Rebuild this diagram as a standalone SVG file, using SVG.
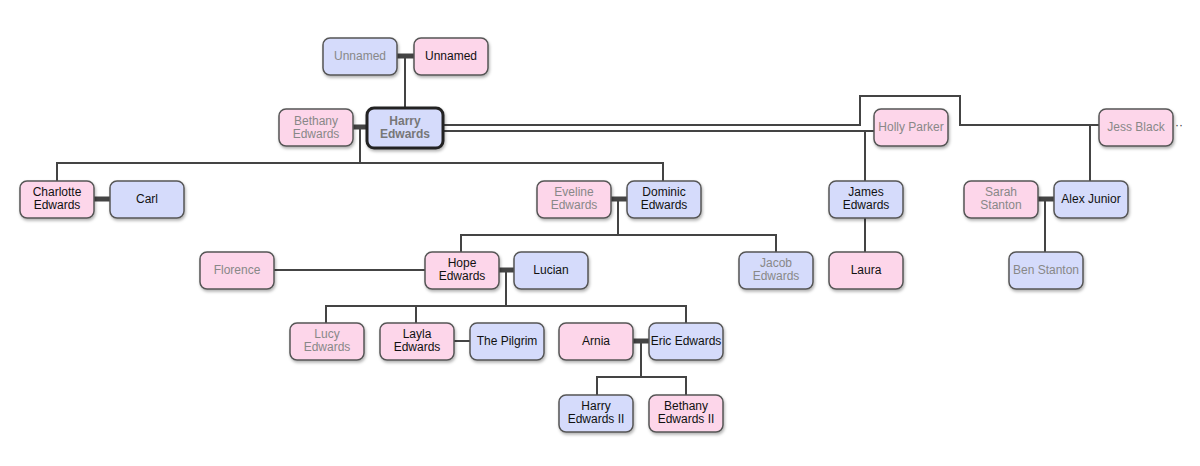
<svg xmlns="http://www.w3.org/2000/svg" width="1200" height="466" viewBox="0 0 1200 466">
<defs>
<filter id="sh" x="-20%" y="-20%" width="150%" height="160%"><feDropShadow dx="1" dy="2" stdDeviation="1.5" flood-color="#000" flood-opacity="0.3"/></filter>
<style>
.n rect{stroke:#555;stroke-width:1.5;filter:url(#sh)}
.m rect{fill:#d5dbfb}.f rect{fill:#fdd6ea}
text{font-family:"Liberation Sans",Arial,sans-serif;font-size:12px;text-anchor:middle;fill:#111}
.g text{fill:#888}
#c path{fill:none;stroke:#444;stroke-width:2}
#c path.t{stroke-width:5}
</style>
</defs>
<rect width="1200" height="466" fill="#fff"/>
<g id="c">
<path class="t" d="M397 56H414M353 127H367M94 199H110M611 199H627M1038 199H1054M499 270H514M633 341H649"/>
<path d="M405 56V108M360 127V163M57 181V163H663V181"/>
<path d="M443 125H860V96H960V125H1099M443 131H874M865 131V181M1090 125V181"/>
<path d="M618 199V235M461 252V235H776V252M865 218V252M1045 199V252"/>
<path d="M274 270H425M506 270V306M326 323V306H686V323M416 306V323M454 341H470"/>
<path d="M641 341V377M597 395V377H686V395"/>
</g>
<g id="unnamed1" class="n m g"><rect x="323" y="38" width="74" height="37" rx="7"/><text x="360" y="60">Unnamed</text></g>
<g id="unnamed2" class="n f"><rect x="414" y="38" width="74" height="37" rx="7"/><text x="451" y="60">Unnamed</text></g>
<g id="bethany" class="n f g"><rect x="279" y="109" width="74" height="37" rx="7"/><text x="316" y="125">Bethany</text><text x="316" y="138">Edwards</text></g>
<g id="harry" class="n m"><rect x="367" y="108" width="76" height="40" rx="7" style="stroke:#222;stroke-width:3"/><text x="405" y="125" style="fill:#777;font-weight:bold">Harry</text><text x="405" y="138" style="fill:#777;font-weight:bold">Edwards</text></g>
<g id="holly" class="n f g"><rect x="874" y="109" width="74" height="37" rx="7"/><text x="911" y="131">Holly Parker</text></g>
<g id="jess" class="n f g"><rect x="1099" y="109" width="74" height="37" rx="7"/><text x="1136" y="131">Jess Black</text></g>
<text x="1179" y="129" style="fill:#444">··</text>
<g id="charlotte" class="n f"><rect x="20" y="181" width="74" height="37" rx="7"/><text x="57" y="196">Charlotte</text><text x="57" y="209">Edwards</text></g>
<g id="carl" class="n m"><rect x="110" y="181" width="74" height="37" rx="7"/><text x="147" y="203">Carl</text></g>
<g id="eveline" class="n f g"><rect x="537" y="181" width="74" height="37" rx="7"/><text x="574" y="196">Eveline</text><text x="574" y="209">Edwards</text></g>
<g id="dominic" class="n m"><rect x="627" y="181" width="74" height="37" rx="7"/><text x="664" y="196">Dominic</text><text x="664" y="209">Edwards</text></g>
<g id="james" class="n m"><rect x="829" y="181" width="74" height="37" rx="7"/><text x="866" y="196">James</text><text x="866" y="209">Edwards</text></g>
<g id="sarah" class="n f g"><rect x="964" y="181" width="74" height="37" rx="7"/><text x="1001" y="196">Sarah</text><text x="1001" y="209">Stanton</text></g>
<g id="alex" class="n m"><rect x="1054" y="181" width="74" height="37" rx="7"/><text x="1091" y="203">Alex Junior</text></g>
<g id="florence" class="n f g"><rect x="200" y="252" width="74" height="37" rx="7"/><text x="237" y="274">Florence</text></g>
<g id="hope" class="n f"><rect x="425" y="252" width="74" height="37" rx="7"/><text x="462" y="267">Hope</text><text x="462" y="280">Edwards</text></g>
<g id="lucian" class="n m"><rect x="514" y="252" width="74" height="37" rx="7"/><text x="551" y="274">Lucian</text></g>
<g id="jacob" class="n m g"><rect x="739" y="252" width="74" height="37" rx="7"/><text x="776" y="267">Jacob</text><text x="776" y="280">Edwards</text></g>
<g id="laura" class="n f"><rect x="829" y="252" width="74" height="37" rx="7"/><text x="866" y="274">Laura</text></g>
<g id="ben" class="n m g"><rect x="1009" y="252" width="74" height="37" rx="7"/><text x="1046" y="274">Ben Stanton</text></g>
<g id="lucy" class="n f g"><rect x="290" y="323" width="74" height="37" rx="7"/><text x="327" y="338">Lucy</text><text x="327" y="351">Edwards</text></g>
<g id="layla" class="n f"><rect x="380" y="323" width="74" height="37" rx="7"/><text x="417" y="338">Layla</text><text x="417" y="351">Edwards</text></g>
<g id="pilgrim" class="n m"><rect x="470" y="323" width="74" height="37" rx="7"/><text x="507" y="345">The Pilgrim</text></g>
<g id="arnia" class="n f"><rect x="559" y="323" width="74" height="37" rx="7"/><text x="596" y="345">Arnia</text></g>
<g id="eric" class="n m"><rect x="649" y="323" width="74" height="37" rx="7"/><text x="686" y="345">Eric Edwards</text></g>
<g id="harry2" class="n m"><rect x="559" y="395" width="74" height="37" rx="7"/><text x="596" y="410">Harry</text><text x="596" y="423">Edwards II</text></g>
<g id="bethany2" class="n f"><rect x="649" y="395" width="74" height="37" rx="7"/><text x="686" y="410">Bethany</text><text x="686" y="423">Edwards II</text></g>
</svg>
